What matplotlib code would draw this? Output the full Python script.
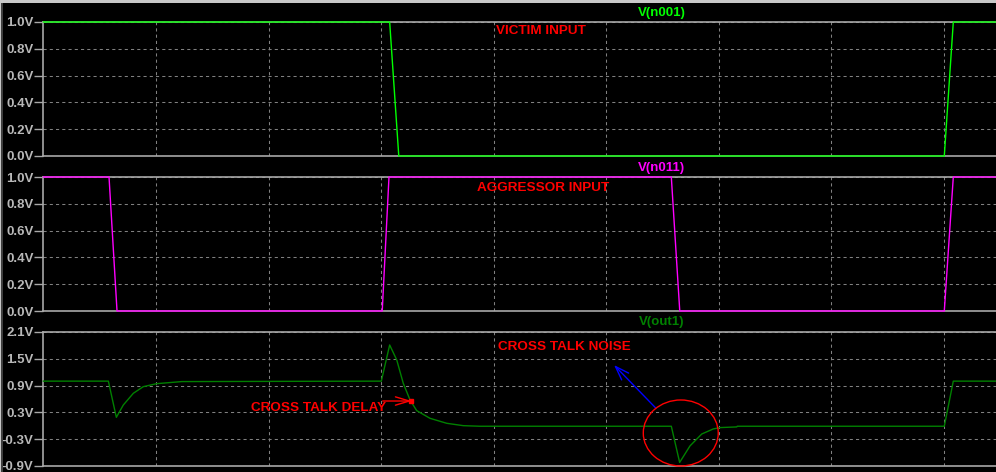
import numpy as np
import matplotlib
matplotlib.use("Agg")
import matplotlib.pyplot as plt
from matplotlib.patches import Ellipse, Rectangle
from matplotlib.ticker import FixedLocator, FuncFormatter

plt.rcParams['font.family'] = ['Liberation Sans', 'DejaVu Sans']

# time axis in grid divisions (vertical grid every 1.0)
victim_t = [0, 3.076, 3.157, 8.003, 8.083, 8.47]
victim_v = [1.0, 1.0, 0.0, 0.0, 1.0, 1.0]

aggr_t = [0, 0.583, 0.654, 3.01, 3.07, 5.578, 5.653, 8.003, 8.083, 8.47]
aggr_v = [1.0, 1.0, 0.0, 0.0, 1.0, 1.0, 0.0, 0.0, 1.0, 1.0]

out_t = [0, 0.577, 0.648, 0.710, 0.799, 0.887, 1.006, 1.229, 3.002, 3.076,
         3.139, 3.197, 3.257, 3.316, 3.434, 3.583, 3.730, 3.878, 5.578, 5.652,
         5.744, 5.848, 5.951, 6.011, 6.159, 6.164, 8.003, 8.083, 8.47]
out_v = [1.0, 1.0, 0.19, 0.466, 0.728, 0.876, 0.943, 0.99, 1.0, 1.81,
         1.473, 0.95, 0.578, 0.34, 0.168, 0.056, 0.003, -0.01, -0.01, -0.82,
         -0.45, -0.184, -0.07, -0.04, -0.025, -0.01, -0.01, 1.0, 1.0]

ticks_in = [0.0, 0.2, 0.4, 0.6, 0.8, 1.0]
ticks_out = [-0.9, -0.3, 0.3, 0.9, 1.5, 2.1]

W, H = 996, 472
fig = plt.figure(figsize=(W / 100, H / 100), dpi=100, facecolor='black')

left = 43.4 / W
ph = 134 / H
tops = [22, 177, 332]
xmax = (W - 43.4) / 112.57

frame_c = '#a8a8a8'
grid_c = '#808080'
lab_c = '#b8b8b8'

axes = []
for top in tops:
    ax = fig.add_axes([left, 1 - (top + 134) / H, 1 - left, ph])
    ax.set_facecolor('black')
    ax.set_xlim(0, xmax)
    for s in ['top', 'bottom', 'left']:
        ax.spines[s].set_color(frame_c)
        ax.spines[s].set_linewidth(1.2)
    ax.spines['right'].set_visible(False)
    ax.xaxis.set_major_locator(FixedLocator(range(1, 9)))
    ax.tick_params(axis='x', bottom=False, labelbottom=False)
    ax.tick_params(axis='y', direction='out', length=6.5, width=1.0, color=frame_c,
                   labelcolor=lab_c, labelsize=9.5, pad=0.5)
    ax.grid(True, color=grid_c, linestyle=(0, (3, 3)), linewidth=0.75)
    axes.append(ax)

fmt = FuncFormatter(lambda v, p: "%.1fV" % v)

ax1, ax2, ax3 = axes
ax1.set_ylim(0, 1.0)
ax1.yaxis.set_major_locator(FixedLocator(ticks_in))
ax1.yaxis.set_major_formatter(fmt)
ax1.plot(victim_t, victim_v, color='#00ff00', lw=1.0, clip_on=False, zorder=5)

ax2.set_ylim(0, 1.0)
ax2.yaxis.set_major_locator(FixedLocator(ticks_in))
ax2.yaxis.set_major_formatter(fmt)
ax2.plot(aggr_t, aggr_v, color='#ff00ff', lw=1.0, clip_on=False, zorder=5)

ax3.set_ylim(-0.9, 2.1)
ax3.yaxis.set_major_locator(FixedLocator(ticks_out))
ax3.yaxis.set_major_formatter(fmt)
ax3.plot(out_t, out_v, color='#008000', lw=1.0, clip_on=False, zorder=5)

for ax in axes:
    for lbl in ax.get_yticklabels():
        lbl.set_fontweight('bold')

# trace names
fig.text(661.5 / W, 1 - 12.7 / H, "V(n001)", color='#00ff00', fontsize=9.5,
         fontweight='bold', ha='center', va='center')
fig.text(661.5 / W, 1 - 167.5 / H, "V(n011)", color='#ff00ff', fontsize=9.5,
         fontweight='bold', ha='center', va='center')
fig.text(661.5 / W, 1 - 322.5 / H, "V(out1)", color='#008000', fontsize=9.5,
         fontweight='bold', ha='center', va='center')

red = '#ff0000'
kw = dict(color=red, fontsize=9.7, fontweight='bold', va='center', ha='left')
ax1.text(4.018, 0.933, "VICTIM INPUT", **kw)
ax2.text(3.852, 0.918, "AGGRESSOR INPUT", **kw)
ax3.text(4.038, 1.764, "CROSS TALK NOISE", **kw)
ax3.text(1.842, 0.399, "CROSS TALK DELAY", **kw)

ax3.annotate("", xy=(3.272, 0.555), xytext=(3.014, 0.555),
             arrowprops=dict(arrowstyle='->,head_length=1.0,head_width=0.3',
                             color=red, lw=1.0, shrinkA=0, shrinkB=0))
ax3.plot([3.265], [0.555], 's', color=red, ms=2.5, zorder=6)
ax3.annotate("", xy=(5.069, 1.361), xytext=(5.442, 0.392),
             arrowprops=dict(arrowstyle='->,head_length=1.0,head_width=0.35',
                             color='#0000ff', lw=1.0, shrinkA=0, shrinkB=0))
ax3.add_patch(Ellipse((5.662, -0.161), 0.666, 1.478, fill=False, edgecolor=red,
                      lw=1.0, clip_on=False, zorder=6))

# window borders
fig.patches.append(Rectangle((0, 1 - 3 / H), 1, 3 / H, transform=fig.transFigure,
                             facecolor='#c8c8c8', edgecolor='none'))
fig.patches.append(Rectangle((0, 0), 1 / W, 1, transform=fig.transFigure,
                             facecolor='#c8c8c8', edgecolor='none'))
fig.patches.append(Rectangle((1 / W, 0), 1.5 / W, 1 - 3 / H, transform=fig.transFigure,
                             facecolor='#404040', edgecolor='none'))

fig.savefig("out.png", dpi=100, facecolor='black')
